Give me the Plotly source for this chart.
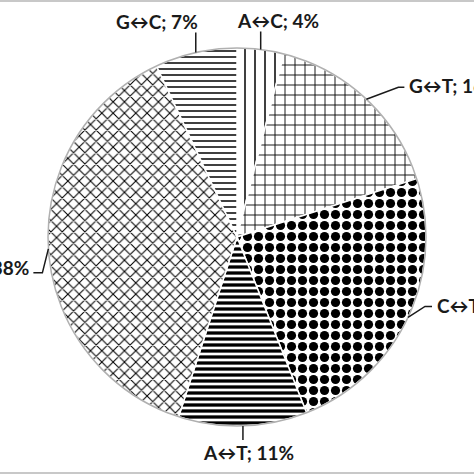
import numpy as np
import plotly.graph_objects as go

# slices, clockwise from 12 o'clock
labels = ["A↔C", "G↔T", "C↔T", "A↔T", "A↔G", "G↔C"]
percents = [4, 16, 24, 11, 38, 7]
patterns = ["|", "+", ".", "-", "x", "-"]

W = H = 474
CX, CY, R = 237, 237, 189  # pie centre and radius in px

# leader line (bend, tail) and text offsets, px relative to the slice edge
leaders = [
    dict(bend=(0, -18), tail=(0, -18), text=(17, -29), anchor="center"),
    dict(bend=(32, -12), tail=(38, -12), text=(41, -14), anchor="left"),
    dict(bend=(17, -11), tail=(24, -11), text=(27, -12), anchor="left"),
    dict(bend=(0, 14), tail=(0, 14), text=(6, 27), anchor="center"),
    dict(bend=(-6, 24), tail=(-15, 24), text=(-17, 19), anchor="right"),
    dict(bend=(0, -20), tail=(0, -20), text=(-39, -31), anchor="center"),
]
pattern_style = [
    dict(size=10, solidity=0.15),
    dict(size=10, solidity=0.17),
    dict(size=11, solidity=0.55),
    dict(size=6, solidity=0.55),
    dict(size=8, solidity=0.25),
    dict(size=6, solidity=0.25),
]


def px(x, y):
    return x / W, 1 - y / H


fig = go.Figure(
    go.Pie(
        labels=labels,
        values=percents,
        sort=False,
        direction="clockwise",
        rotation=0,
        textinfo="none",
        hoverinfo="label+percent",
        domain=dict(x=[(CX - R) / W, (CX + R) / W], y=[1 - (CY + R) / H, 1 - (CY - R) / H]),
        marker=dict(
            colors=["white"] * len(labels),
            line=dict(color="white", width=1.5),
            pattern=dict(
                shape=patterns,
                fgcolor="black",
                bgcolor="white",
                fgopacity=1,
                fillmode="replace",
                size=[p["size"] for p in pattern_style],
                solidity=[p["solidity"] for p in pattern_style],
            ),
        ),
    )
)

# outer rim of the pie
fig.add_shape(
    type="circle", xref="paper", yref="paper",
    x0=(CX - R) / W, x1=(CX + R) / W, y0=1 - (CY + R) / H, y1=1 - (CY - R) / H,
    line=dict(color="#b0b0b0", width=1.5),
)

# labels with leader lines placed at each slice's mid angle
cum = np.cumsum(percents)
mids = (cum - np.array(percents) / 2) / cum[-1] * 2 * np.pi
for lab, pct, theta, ld in zip(labels, percents, mids, leaders):
    ex = CX + R * np.sin(theta)
    ey = CY - R * np.cos(theta)
    pts = [(ex, ey), (ex + ld["bend"][0], ey + ld["bend"][1]), (ex + ld["tail"][0], ey + ld["tail"][1])]
    path = "M " + " L ".join(f"{px(x, y)[0]:.5f},{px(x, y)[1]:.5f}" for x, y in pts)
    fig.add_shape(type="path", xref="paper", yref="paper", path=path,
                  line=dict(color="#1a1a1a", width=1.5))
    tx, ty = px(ex + ld["text"][0], ey + ld["text"][1])
    fig.add_annotation(
        x=tx, y=ty, xref="paper", yref="paper", showarrow=False,
        text=f"<b>{lab}; {pct}%</b>", xanchor=ld["anchor"], yanchor="middle",
        font=dict(family="Lato, 'Open Sans', sans-serif", size=19, color="#1a1a1a"),
    )

# grey strips at top and bottom of the picture
for y0, y1 in [(0, 2), (472, 474)]:
    fig.add_shape(type="rect", xref="paper", yref="paper", x0=0, x1=1,
                  y0=1 - y1 / H, y1=1 - y0 / H, fillcolor="#c8c8c8", line=dict(width=0))

fig.update_layout(
    width=W, height=H,
    margin=dict(l=0, r=0, t=0, b=0),
    paper_bgcolor="white",
    plot_bgcolor="white",
    showlegend=False,
)

# page body margin would push the figure 8px off the window corner
fig.write_html(
    "out.html",
    config={"displayModeBar": False},
    post_script="document.body.style.margin='0';document.body.style.overflow='hidden';",
)
